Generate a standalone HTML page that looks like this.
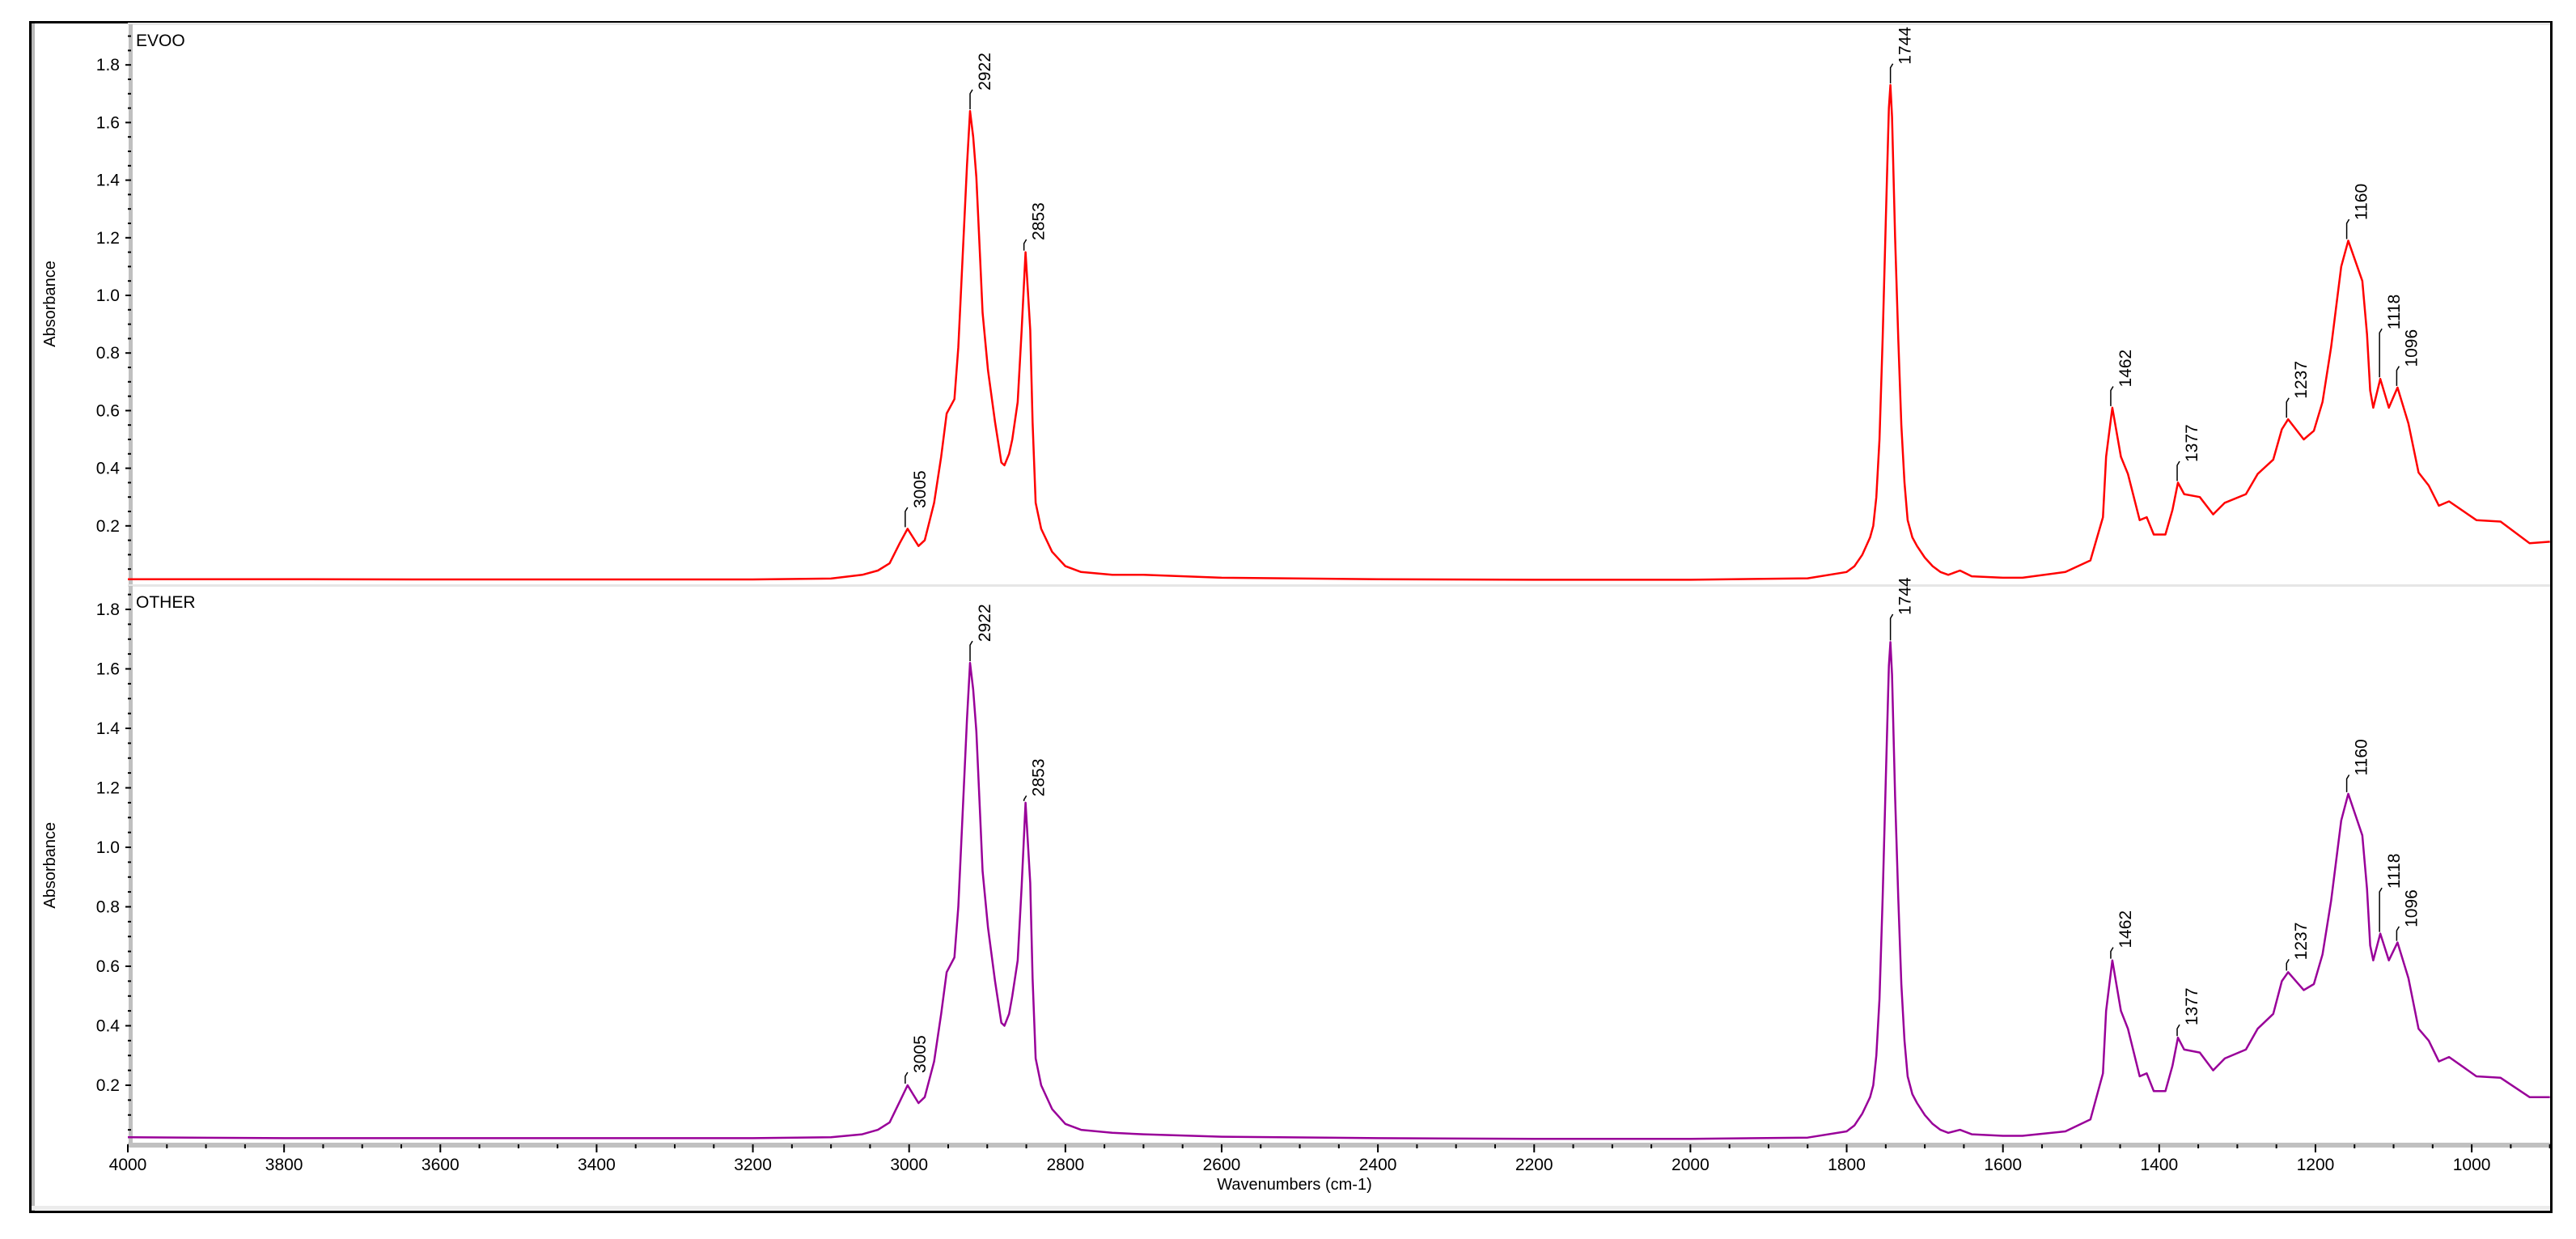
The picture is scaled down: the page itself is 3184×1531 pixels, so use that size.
<!DOCTYPE html>
<html><head><meta charset="utf-8"><style>
html,body{margin:0;padding:0;background:#fff;}
svg{display:block;font-family:"Liberation Sans",Arial,sans-serif;}
</style></head><body>
<svg id="chart" width="3184" height="1531" viewBox="0 0 3184 1531" xmlns="http://www.w3.org/2000/svg">
<rect x="0" y="0" width="3184" height="1531" fill="#fff"/>
<rect x="39" y="29" width="4" height="1467" fill="#b8b8b8"/>
<rect x="39" y="1490" width="3113" height="5" fill="#ececec"/>
<rect x="37.5" y="27.5" width="3116" height="1470" fill="none" stroke="#000" stroke-width="3"/>
<g id="g"></g>
</svg>
<script>
const wavenumbers=[4000,3800,3600,3400,3200,
3100,3060,3040,3025,3012,3002,2995,2988,2980,2968,2959,2952,2942,2937,2930,2926,2922,2918,2914,2909,2906,2899,2890,2882,2878,2872,2868,2861,2856,2851,2845,2842,2838,2831,2817,2800,2780,
2740,2700,2600,2400,2200,2000,1850,
1800,1790,1780,1770,1766,1762,1758,1754,1750,1746,1744,1742,1738,1734,1730,1726,1722,1716,1710,1700,1690,1680,1670,1655,1640,
1600,1575,1520,1488,
1472,1468,1460,1449,1440,1425,1416,1407,1392,1383,1376,1368,1348,1331,1316,1289,1274,1254,1243,1235,1215,1202,1191,1180,1167,1158,1149,1140,1134,1130,1126,1117,1106,1095,1081,1068,1055,1042,1029,994,963,926,900];
const evooValues=[.015,.015,.014,.014,.014,
.017,.03,.045,.07,.14,.19,.16,.13,.15,.28,.44,.59,.64,.82,1.22,1.45,1.64,1.55,1.41,1.12,.94,.74,.56,.42,.41,.45,.5,.63,.88,1.15,.88,.56,.28,.19,.11,.06,.04,
.03,.03,.02,.015,.013,.013,.018,
.04,.06,.1,.16,.2,.3,.5,.85,1.25,1.65,1.73,1.62,1.2,.85,.55,.35,.22,.16,.13,.09,.06,.04,.03,.045,.025,
.02,.02,.04,.08,
.23,.44,.61,.44,.38,.22,.23,.17,.17,.255,.35,.31,.30,.24,.28,.31,.38,.43,.535,.57,.50,.53,.63,.82,1.10,1.19,1.12,1.05,.865,.67,.61,.71,.61,.68,.555,.385,.34,.27,.285,.22,.215,.14,.145];
const otherValues=[.025,.022,.022,.022,.022,
.025,.035,.05,.075,.145,.2,.17,.14,.16,.28,.44,.58,.63,.8,1.2,1.43,1.62,1.53,1.39,1.1,.92,.73,.55,.41,.40,.44,.5,.62,.87,1.15,.88,.56,.29,.2,.12,.07,.05,
.04,.035,.027,.022,.02,.02,.024,
.045,.065,.105,.16,.2,.3,.49,.83,1.22,1.61,1.69,1.58,1.17,.83,.54,.35,.23,.17,.14,.1,.07,.05,.04,.05,.035,
.03,.03,.045,.085,
.24,.45,.62,.45,.39,.23,.24,.18,.18,.265,.36,.32,.31,.25,.29,.32,.39,.44,.55,.58,.52,.54,.64,.82,1.09,1.18,1.11,1.04,.86,.67,.62,.71,.62,.68,.56,.39,.35,.28,.295,.23,.225,.16,.16];
const peakPositions=[3005,2922,2853,1744,1462,1377,1237,1160,1118,1096];
const peakLabelTops=[0.25,1.70,1.18,1.79,0.67,0.41,0.63,1.25,0.87,0.74];
const yTickLabels=["0.2","0.4","0.6","0.8","1.0","1.2","1.4","1.6","1.8"];
const xTickLabels=["4000","3800","3600","3400","3200","3000","2800","2600","2400","2200","2000","1800","1600","1400","1200","1000"];

const NS="http://www.w3.org/2000/svg";
const g=document.getElementById('g');
const X0=158,XS=0.9657;
function xs(w){return X0+(4000-w)*XS;}
function mk(t,a,parent){const e=document.createElementNS(NS,t);for(const k in a)e.setAttribute(k,a[k]);(parent||g).appendChild(e);return e;}
function valAt(vals,w){
 let best=0,bd=1e9;
 for(let i=0;i<wavenumbers.length;i++){const d=Math.abs(wavenumbers[i]-w);if(d<bd){bd=d;best=i;}}
 let m=vals[best];
 for(let i=0;i<wavenumbers.length;i++){if(Math.abs(wavenumbers[i]-w)<=4&&vals[i]>m)m=vals[i];}
 return m;
}

const panels=[
 {name:'evoo',title:'EVOO',vals:evooValues,color:'#ff0000',top:30,zero:721,scale:356},
 {name:'other',title:'OTHER',vals:otherValues,color:'#990099',top:724,zero:1414.5,scale:367.5}
];
panels.forEach(p=>{
 const ys=v=>p.zero-v*p.scale;
 const grp=mk('g',{});
 
 
 const sep=mk('rect',{x:158,y:p.top-2,width:2994,height:3,fill:'#e6e6e6'},grp);
 
 
 const ax=mk('rect',{x:159,y:p.top,width:5,height:(p.zero+3)-p.top,fill:'#c0c0c0'},grp);
 
 
 for(let v=0.05;v<1.95;v+=0.05){
  const y=ys(v); if(y<p.top+2) continue;
  const major=Math.abs(v*5-Math.round(v*5))<1e-6;
  const t=mk('line',{x1:major?155:158,x2:162,y1:y,y2:y,stroke:'#000','stroke-width':2},grp);
  
  
 }
 yTickLabels.forEach(s=>{
  const tx=mk('text',{x:148,y:ys(parseFloat(s))+7,'text-anchor':'end','font-size':21,fill:'#000'},grp);
  tx.textContent=s;
  
  
 });
 const at=mk('text',{x:0,y:0,'text-anchor':'middle','font-size':20,fill:'#000',transform:`translate(68,${(p.top+p.zero)/2}) rotate(-90)`},grp);
 at.textContent='Absorbance';
 
 
 const tl=mk('text',{x:168,y:p.top+27,'font-size':21,fill:'#000'},grp);
 tl.textContent=p.title;
 
 
 let d='';
 wavenumbers.forEach((w,i)=>{d+=(i?'L':'M')+xs(w).toFixed(1)+','+ys(p.vals[i]).toFixed(1);});
 const path=mk('path',{d:d,fill:'none',stroke:p.color,'stroke-width':2.5,'stroke-linejoin':'round'},grp);
 
 
 peakPositions.forEach((w,i)=>{
  const v=valAt(p.vals,w);
  const x=xs(w),y0=ys(v)-2,y1=ys(peakLabelTops[i]+(p.name==='other'?-0.02:0));
  const ld=mk('path',{d:`M${x},${y0}L${x},${y1}L${x+3},${y1-5}`,fill:'none',stroke:'#000','stroke-width':1.5},grp);
  
  
  const pt=mk('text',{x:0,y:0,'font-size':21,fill:'#000',transform:`translate(${x+25},${y1-4}) rotate(-90)`},grp);
  pt.textContent=String(w);
  
  
 });
});
const xa=mk('rect',{x:158,y:1412,width:2994,height:6,fill:'#c0c0c0'});


for(let w=4000;w>=900;w-=50){
 const major=w%200===0;
 const t=mk('line',{x1:xs(w),x2:xs(w),y1:1414,y2:major?1424:1419,stroke:'#000','stroke-width':2});
 
 
}
xTickLabels.forEach(s=>{
 const t=mk('text',{x:xs(parseFloat(s)),y:1446,'text-anchor':'middle','font-size':21,fill:'#000'});
 t.textContent=s;
 
 
});
const xt=mk('text',{x:1600,y:1470,'text-anchor':'middle','font-size':20,fill:'#000'});
xt.textContent='Wavenumbers (cm-1)';


</script>
</body></html>
